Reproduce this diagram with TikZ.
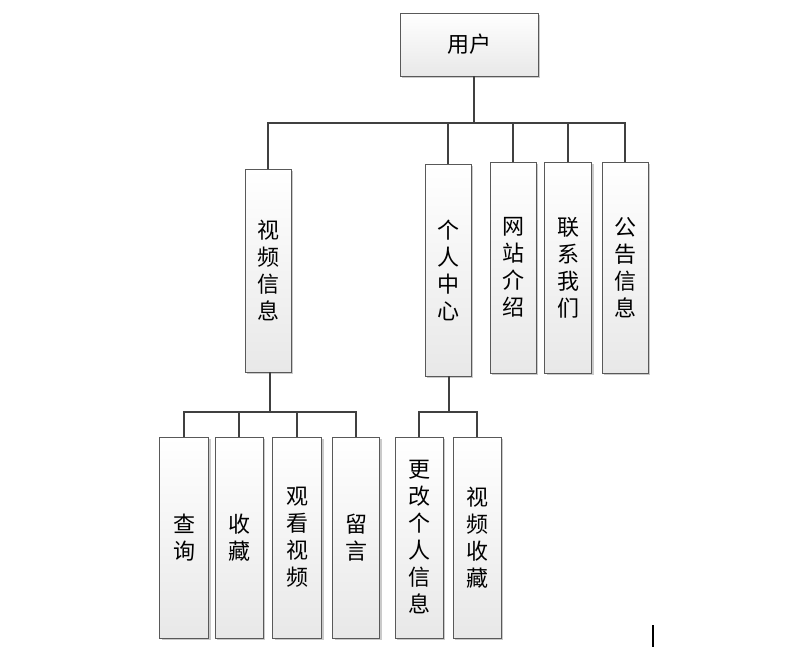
\documentclass[tikz,border=0pt]{standalone}
\usepackage{fontspec}
\newfontfamily\cjk{Noto Sans CJK SC}
\usetikzlibrary{shadows}
\tikzset{
  box/.style={draw=black!65, line width=0.8pt, top color=white, bottom color=black!9,
    drop shadow={shadow xshift=2pt, shadow yshift=-2pt, fill=black!35, opacity=0.6},
    inner sep=0pt, align=center, font=\cjk\fontsize{22}{27}\selectfont},
  link/.style={draw=black!75, line width=2pt}
}
\begin{document}
\begin{tikzpicture}[x=1pt,y=-1pt]
\useasboundingbox (0,0) rectangle (812,650);
% top
\node[box, minimum width=138pt, minimum height=63pt] (u) at (469,44.5) {用户};
% second level
\node[box, minimum width=46pt, minimum height=203pt] (spxx) at (268,270.5) {视\\频\\信\\息};
\node[box, minimum width=46pt, minimum height=212pt] (grzx) at (448,270) {个\\人\\中\\心};
\node[box, minimum width=46pt, minimum height=211pt] (wzjs) at (513,267.5) {网\\站\\介\\绍};
\node[box, minimum width=47pt, minimum height=211pt] (lxwm) at (568,267.5) {联\\系\\我\\们};
\node[box, minimum width=46pt, minimum height=211pt] (ggxx) at (625,267.5) {公\\告\\信\\息};
% third level
\node[box, minimum width=49pt, minimum height=201pt] (cx) at (184,537.5) {查\\询};
\node[box, minimum width=48pt, minimum height=201pt] (sc) at (239,537.5) {收\\藏};
\node[box, minimum width=49pt, minimum height=201pt] (gksp) at (297,537.5) {观\\看\\视\\频};
\node[box, minimum width=47pt, minimum height=201pt] (ly) at (356,537.5) {留\\言};
\node[box, minimum width=48pt, minimum height=201pt] (ggxx2) at (419,537.5) {更\\改\\个\\人\\信\\息};
\node[box, minimum width=48pt, minimum height=201pt] (spsc) at (477,537.5) {视\\频\\收\\藏};
% buses
\coordinate (b1) at (474,123);
\coordinate (b2) at (270,412);
\coordinate (b3) at (449,412);
% connectors
\draw[link] (u.south -| b1) -- (b1);
\draw[link] (b1) -| (spxx.north);
\draw[link] (b1) -| (ggxx.north);
\draw[link] (b1 -| grzx.north) -- (grzx.north);
\draw[link] (b1 -| wzjs.north) -- (wzjs.north);
\draw[link] (b1 -| lxwm.north) -- (lxwm.north);
\draw[link] (spxx.south -| b2) -- (b2);
\draw[link] (b2) -| (cx.north);
\draw[link] (b2) -| (ly.north);
\draw[link] (b2 -| sc.north) -- (sc.north);
\draw[link] (b2 -| gksp.north) -- (gksp.north);
\draw[link] (grzx.south -| b3) -- (b3);
\draw[link] (b3) -| (ggxx2.north);
\draw[link] (b3) -| (spsc.north);
% cursor mark
\draw[line width=1.5pt] (653,625) -- (653,647);
\end{tikzpicture}
\end{document}
